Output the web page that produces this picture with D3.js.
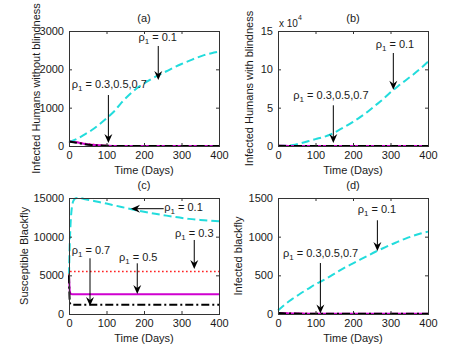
<!DOCTYPE html>
<html>
<head>
<meta charset="utf-8">
<script src="https://cdn.jsdelivr.net/npm/d3@7"></script>
<style>
  body { margin: 0; background: #fff; }
  svg { display: block; }
  text { font-family: "Liberation Sans", Arial, sans-serif; fill: #1a1a1a; }
</style>
</head>
<body>
<script>
// ---------- DATA ----------
const xTicks = [0, 100, 200, 300, 400];
const yTicksA = [0, 1000, 2000, 3000];
const yTicksB = [0, 5, 10, 15];
const yTicksC = [0, 5000, 10000, 15000];
const yTicksD = [0, 500, 1000, 1500];

const timeGrid = [0, 20, 40, 60, 80, 100, 120, 140, 160, 180, 200, 220, 240, 260, 280, 300, 320, 340, 360, 380, 400];

// (a) Infected humans without blindness
const a_rho01 = [100, 180, 290, 410, 555, 720, 900, 1130, 1330, 1500, 1630, 1750, 1855, 1950, 2050, 2140, 2220, 2300, 2370, 2420, 2460];
const a_rho03 = [120, 100, 70, 45, 25, 12, 5, 2, 1, 0, 0, 0, 0, 0, 0, 0, 0, 0, 0, 0, 0];
const a_rho05 = [120, 95, 60, 35, 18, 8, 3, 1, 0, 0, 0, 0, 0, 0, 0, 0, 0, 0, 0, 0, 0];
const a_rho07 = [120, 85, 50, 25, 12, 5, 2, 0, 0, 0, 0, 0, 0, 0, 0, 0, 0, 0, 0, 0, 0];

// (b) Infected humans with blindness (x 10^4)
const b_rho01 = [0, 0.02, 0.12, 0.35, 0.62, 0.9, 1.15, 1.5, 2.0, 2.55, 3.15, 3.8, 4.5, 5.3, 6.1, 7.0, 7.8, 8.55, 9.3, 10.1, 11.0];
const b_rho03 = [0.03, 0.02, 0.02, 0.02, 0.02, 0.02, 0.02, 0.02, 0.02, 0.02, 0.02, 0.02, 0.02, 0.02, 0.02, 0.02, 0.02, 0.02, 0.02, 0.02, 0.02];
const b_rho05 = [0.03, 0.02, 0.01, 0.01, 0.01, 0.01, 0.01, 0.01, 0.01, 0.01, 0.01, 0.01, 0.01, 0.01, 0.01, 0.01, 0.01, 0.01, 0.01, 0.01, 0.01];
const b_rho07 = [0.03, 0.01, 0.01, 0.01, 0.01, 0.01, 0.01, 0.01, 0.01, 0.01, 0.01, 0.01, 0.01, 0.01, 0.01, 0.01, 0.01, 0.01, 0.01, 0.01, 0.01];

// (c) Susceptible blackfly
const timeC = [0, 1, 2, 4, 6, 8, 10, 13, 17, 22, 28, 40, 60, 80, 100, 120, 140, 170, 200, 230, 260, 290, 320, 360, 400];
const c_rho01 = [5000, 7200, 9000, 11500, 13000, 13900, 14400, 14750, 14950, 15000, 15000, 14880, 14680, 14480, 14280, 14060, 13840, 13520, 13220, 12960, 12720, 12500, 12300, 12130, 11980];
const c_rho03 = [5000, 5300, 5450, 5500, 5500, 5500, 5500, 5500, 5500, 5500, 5500, 5500, 5500, 5500, 5500, 5500, 5500, 5500, 5500, 5500, 5500, 5500, 5500, 5500, 5500];
const c_rho05 = [5000, 3800, 3000, 2650, 2580, 2570, 2570, 2570, 2570, 2570, 2570, 2570, 2570, 2570, 2570, 2570, 2570, 2570, 2570, 2570, 2570, 2570, 2570, 2570, 2570];
const c_rho07 = [5000, 2800, 1700, 1250, 1200, 1190, 1190, 1190, 1190, 1190, 1190, 1190, 1190, 1190, 1190, 1190, 1190, 1190, 1190, 1190, 1190, 1190, 1190, 1190, 1190];

// (d) Infected blackfly
const d_rho01 = [45, 130, 200, 265, 325, 385, 435, 490, 550, 605, 655, 705, 755, 805, 850, 895, 935, 975, 1010, 1040, 1065];
const d_rho03 = [12, 10, 8, 6, 5, 4, 4, 3, 3, 3, 3, 3, 3, 3, 3, 3, 3, 3, 3, 3, 3];
const d_rho05 = [12, 9, 7, 5, 4, 3, 3, 3, 2, 2, 2, 2, 2, 2, 2, 2, 2, 2, 2, 2, 2];
const d_rho07 = [12, 8, 6, 4, 3, 3, 2, 2, 2, 2, 2, 2, 2, 2, 2, 2, 2, 2, 2, 2, 2];

// ---------- STYLES ----------
const styles = [
  { stroke: "#22dcdc", width: 2,   dash: "8,4" },       // rho1 = 0.1
  { stroke: "#ff1010", width: 1.5, dash: "1.5,2.5" },   // rho1 = 0.3
  { stroke: "#d000d0", width: 2,   dash: null },        // rho1 = 0.5
  { stroke: "#000000", width: 2,   dash: "8,3,2,3" }    // rho1 = 0.7
];

const svg = d3.select("body").append("svg")
  .attr("width", 474).attr("height", 355);
svg.append("rect").attr("width", 474).attr("height", 355).attr("fill", "#fff");

function rhoLabel(g, x, y, value) {
  const t = g.append("text").attr("x", x).attr("y", y)
    .attr("font-size", 11).style("white-space", "pre");
  t.append("tspan").text("ρ");
  t.append("tspan").attr("font-size", 8).attr("dy", 3).text("1");
  t.append("tspan").attr("dy", -3).text(" = " + value);
}

function arrow(g, x1, y1, x2, y2) {
  const ang = Math.atan2(y2 - y1, x2 - x1);
  const L = 9, hw = 4, notch = 6;
  g.append("line")
    .attr("x1", x1).attr("y1", y1)
    .attr("x2", x2 - notch * Math.cos(ang)).attr("y2", y2 - notch * Math.sin(ang))
    .attr("stroke", "#000").attr("stroke-width", 1);
  g.append("path")
    .attr("d", `M0,0 L${-L},${-hw} L${-notch},0 L${-L},${hw} Z`)
    .attr("transform", `translate(${x2},${y2}) rotate(${ang * 180 / Math.PI})`)
    .attr("fill", "#000");
}

const fmt = d3.format("d");

function panel(cfg) {
  const { left, top, width, height } = cfg.box;
  const x = d3.scaleLinear().domain([0, 400]).range([left, left + width]);
  const y = d3.scaleLinear().domain(cfg.yDomain).range([top + height, top]);
  const g = svg.append("g");

  // series
  const line = d3.line().x((d) => x(d[0])).y((d) => y(d[1])).curve(d3.curveMonotoneX);
  cfg.series.forEach((vals, i) => {
    const pts = cfg.time.map((t, k) => [t, vals[k]]);
    const st = styles[i];
    g.append("path").datum(pts).attr("d", line)
      .attr("fill", "none").attr("stroke", st.stroke)
      .attr("stroke-width", st.width)
      .attr("stroke-dasharray", st.dash);
  });

  // axes (ticks inside, mirrored)
  const styleAxis = (sel) => {
    sel.select(".domain").remove();
    sel.selectAll(".tick line").attr("stroke", "#333");
    sel.selectAll(".tick text").attr("font-size", 11)
      .attr("font-family", '"Liberation Sans", Arial, sans-serif').attr("fill", "#1a1a1a");
  };
  g.append("g").attr("transform", `translate(0,${top + height})`)
    .call(d3.axisBottom(x).tickValues(xTicks).tickFormat(fmt).tickSize(-3).tickPadding(5).tickSizeOuter(0))
    .call(styleAxis);
  g.append("g").attr("transform", `translate(0,${top})`)
    .call(d3.axisTop(x).tickValues(xTicks).tickSize(-3).tickFormat(() => "").tickSizeOuter(0))
    .call(styleAxis);
  g.append("g").attr("transform", `translate(${left},0)`)
    .call(d3.axisLeft(y).tickValues(cfg.yTicks).tickFormat(fmt).tickSize(-3).tickPadding(5).tickSizeOuter(0))
    .call(styleAxis);
  g.append("g").attr("transform", `translate(${left + width},0)`)
    .call(d3.axisRight(y).tickValues(cfg.yTicks).tickSize(-3).tickFormat(() => "").tickSizeOuter(0))
    .call(styleAxis);

  g.append("rect").attr("x", left + 0.5).attr("y", top + 0.5)
    .attr("width", width).attr("height", height)
    .attr("fill", "none").attr("stroke", "#333").attr("stroke-width", 1);

  // titles and labels
  g.append("text").attr("x", left + width / 2).attr("y", top - 9)
    .attr("text-anchor", "middle").attr("font-size", 11).text(cfg.title);
  g.append("text").attr("x", left + width / 2).attr("y", top + height + 28)
    .attr("text-anchor", "middle").attr("font-size", 11).text("Time (Days)");
  g.append("text")
    .attr("transform", `translate(${cfg.ylabelX},${top + height / 2}) rotate(-90)`)
    .attr("text-anchor", "middle").attr("font-size", 11).text(cfg.ylabel);

  // annotations (in data units)
  cfg.notes.forEach((n) => {
    rhoLabel(g, x(n.tx), y(n.ty), n.label);
    arrow(g, x(n.ax1), y(n.ay1), x(n.ax2), y(n.ay2));
  });
  return { g, x, y };
}

panel({
  box: { left: 69, top: 31, width: 150, height: 115 },
  yDomain: [0, 3000], yTicks: yTicksA, title: "(a)",
  ylabel: "Infected Humans without blindness", ylabelX: 40,
  time: timeGrid, series: [a_rho01, a_rho03, a_rho05, a_rho07],
  notes: [
    { label: "0.1", tx: 185, ty: 2739, ax1: 238, ay1: 2609, ax2: 238, ay2: 1722 },
    { label: "0.3,0.5,0.7", tx: 7, ty: 1513, ax1: 105, ay1: 1330, ax2: 105, ay2: 78 }
  ]
});

const pb = panel({
  box: { left: 278, top: 31, width: 150, height: 115 },
  yDomain: [0, 15], yTicks: yTicksB, title: "(b)",
  ylabel: "Infected Humans with blindness", ylabelX: 253,
  time: timeGrid, series: [b_rho01, b_rho03, b_rho05, b_rho07],
  notes: [
    { label: "0.1", tx: 260.5, ty: 12.78, ax1: 307.5, ay1: 12.13, ax2: 307.5, ay2: 7.34 },
    { label: "0.3,0.5,0.7", tx: 40.8, ty: 6.07, ax1: 147.5, ay1: 5.31, ax2: 147.5, ay2: 0.39 }
  ]
});
// exponent label
const ex = pb.g.append("text").attr("x", 279).attr("y", 27).attr("font-size", 10).style("white-space", "pre");
ex.append("tspan").text("x 10");
ex.append("tspan").attr("font-size", 7).attr("dy", -7).text("4");

panel({
  box: { left: 69, top: 198, width: 150, height: 116 },
  yDomain: [0, 15000], yTicks: yTicksC, title: "(c)",
  ylabel: "Susceptible Blackfly", ylabelX: 28,
  time: timeC, series: [c_rho01, c_rho03, c_rho05, c_rho07],
  notes: [
    { label: "0.1", tx: 254, ty: 13319, ax1: 252.5, ay1: 13616, ax2: 165.3, ay2: 13616 },
    { label: "0.3", tx: 282.7, ty: 9957, ax1: 334, ay1: 9569, ax2: 334, ay2: 5819 },
    { label: "0.5", tx: 133, ty: 6918, ax1: 182, ay1: 6556, ax2: 182, ay2: 2586 },
    { label: "0.7", tx: 7.2, ty: 7759, ax1: 56, ay1: 7203, ax2: 56, ay2: 1034 }
  ]
});

panel({
  box: { left: 278, top: 198, width: 150, height: 116 },
  yDomain: [0, 1500], yTicks: yTicksD, title: "(d)",
  ylabel: "Infected blackfly", ylabelX: 242,
  time: timeGrid, series: [d_rho01, d_rho03, d_rho05, d_rho07],
  notes: [
    { label: "0.1", tx: 212.5, ty: 1306, ax1: 265, ay1: 1212, ax2: 265, ay2: 815 },
    { label: "0.3,0.5,0.7", tx: 13.3, ty: 737, ax1: 113, ay1: 659, ax2: 113, ay2: 6 }
  ]
});
</script>
</body>
</html>
